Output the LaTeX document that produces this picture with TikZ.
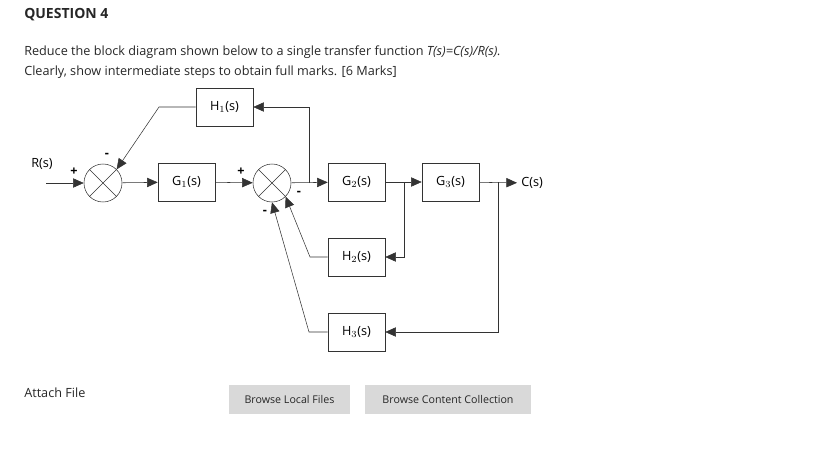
\documentclass[tikz,border=0pt]{standalone}
\usepackage{fontspec}
\setmainfont{Open Sans}
\usetikzlibrary{arrows.meta,positioning}
\tikzset{
  block/.style={draw=black!80,fill=white,minimum width=42.75pt,minimum height=28.5pt,inner sep=0pt,font=\fontsize{9.5}{11}\selectfont},
  sumjunc/.style={draw=black!80,circle,minimum size=28.5pt,inner sep=0pt},
  sig/.style={draw=black!80,-{Triangle[length=8pt,width=7pt]}},
  lbl/.style={font=\fontsize{9.5}{11}\selectfont,inner sep=0pt},
  sgn/.style={font=\bfseries\fontsize{9.5}{10}\selectfont,inner sep=0pt},
  txt/.style={anchor=west,inner sep=0pt,font=\fontsize{9.5}{11}\selectfont,text=black!85},
  button/.style={fill=black!15,minimum height=21.75pt,inner sep=0pt,font=\fontsize{8}{9}\selectfont,text=black!85}
}
\begin{document}
\begin{tikzpicture}[x=0.75pt,y=-0.75pt]
        \useasboundingbox (0,0) rectangle (835,454);
        % Question text
        \node[txt,font=\bfseries\fontsize{10.5}{12}\selectfont] (title) at (24,15) {QUESTION 4};
        \node[txt] (line1) at (24,52) {Reduce the block diagram shown below to a single transfer function \textit{T(s)=C(s)/R(s).}};
        \node[txt] (line2) at (24,72) {Clearly, show intermediate steps to obtain full marks. [6 Marks]};

        % The blocks
        \node[sumjunc] (s1) at (103,183) {};
        \node[sumjunc] (s2) at (272,183) {};
        \draw[black!80] (s1.north west) -- (s1.south east) (s1.north east) -- (s1.south west);
        \draw[black!80] (s2.north west) -- (s2.south east) (s2.north east) -- (s2.south west);
        \node[block] (g1) at (186.5,182) {G$_1$(s)};
        \node[block] (h1) at (224.5,107) {H$_1$(s)};
        \node[block] (g2) at (356.5,182) {G$_2$(s)};
        \node[block] (g3) at (450.5,182) {G$_3$(s)};
        \node[block] (h2) at (356.5,257) {H$_2$(s)};
        \node[block] (h3) at (356.5,332) {H$_3$(s)};
        \node[lbl] (rs) at (42,164) {R(s)};
        \node[lbl,anchor=west,inner xsep=3pt] (cs) at (517,183) {C(s)};
        \coordinate (rin) at (46,183);
        \coordinate (b1) at (309,183);
        \coordinate (b2) at (404,182);
        \coordinate (b3) at (498,182);

        % Forward path
        \draw[sig] (rin) -- (s1);
        \draw[sig] (s1) -- (g1);
        \draw[sig] (g1) -- (s2);
        \draw[sig] (s2) -- (g2);
        \draw[sig] (g2) -- (g3);
        \draw[sig] (g3) -- (cs);

        % Feedback paths
        \draw[sig] (b1) |- (h1);
        \draw[sig] (h1.west) -- (159,107) -- (s1.north east);
        \draw[sig] (b2) |- (h2);
        \draw[sig] (h2.west) -- (310,257) -- (s2.south east);
        \draw[sig] (b3) |- (h3);
        \draw[sig] (h3.west) -- (309,332) -- (s2.south);

        % Signs
        \node[sgn] (p1) at (74,172) {+};
        \node[sgn] (m1) at (107,155) {-};
        \node[sgn] (p2) at (241,172) {+};
        \node[sgn] (m2) at (299,193) {-};
        \node[sgn] (m3) at (265,212) {-};

        % Attach
        \node[txt] (attach) at (24,393) {Attach File};
        \node[button,minimum width=90.75pt] (local) at (289.5,399) {Browse Local Files};
        \node[button,minimum width=124.5pt] (content) at (448,399) {Browse Content Collection};
\end{tikzpicture}
\end{document}
